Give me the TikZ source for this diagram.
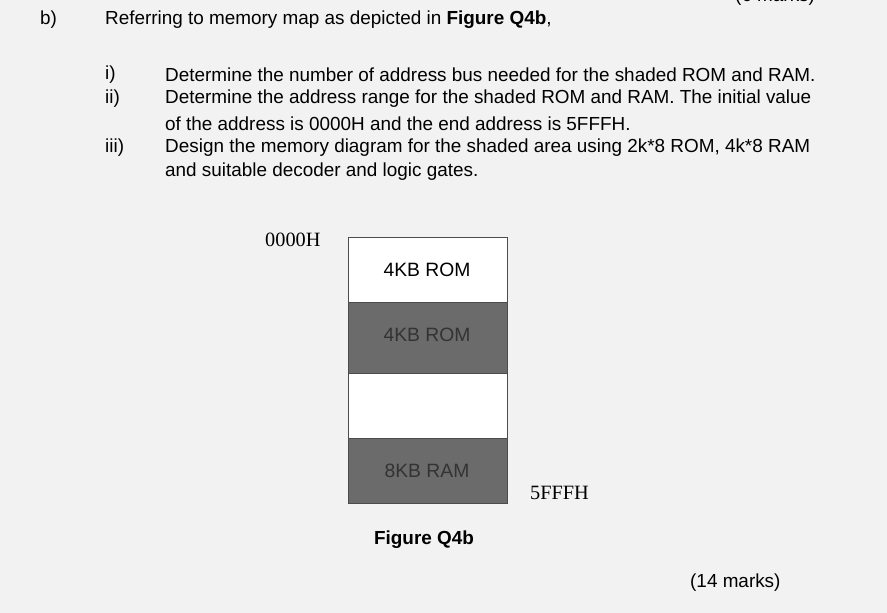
\documentclass[tikz,border=0pt]{standalone}
\usepackage{fontspec}
\setmainfont{Liberation Sans}
\newfontfamily\serifx{Liberation Serif}
\begin{document}
\begin{tikzpicture}[x=1pt,y=-1pt,
  txt/.style={anchor=west,inner sep=0pt,font=\fontsize{18.9}{21}\selectfont},
  ser/.style={anchor=west,inner sep=0pt,font=\serifx\fontsize{20.3}{22}\selectfont},
  blk/.style={draw=black!70,line width=0.8pt},
  lbl/.style={inner sep=0pt,font=\fontsize{19.3}{21}\selectfont}]
\fill[black!5] (0,0) rectangle (887,613);
\useasboundingbox (0,0) rectangle (887,613);
\node[txt] (m0) at (735,-3) {(6 marks)};
\node[txt] (b) at (40,20) {b)};
\node[txt] (t0) at (105,20) {Referring to memory map as depicted in \textbf{Figure Q4b},};
\node[txt] (r1) at (105,75) {i)};
\node[txt] (l1) at (165,75) {Determine the number of address bus needed for the shaded ROM and RAM.};
\node[txt] (r2) at (105,99) {ii)};
\node[txt] (l2) at (165,99) {Determine the address range for the shaded ROM and RAM. The initial value};
\node[txt] (l3) at (165,124) {of the address is 0000H and the end address is 5FFFH.};
\node[txt] (r3) at (105,148) {iii)};
\node[txt] (l4) at (165,148) {Design the memory diagram for the shaded area using 2k*8 ROM, 4k*8 RAM};
\node[txt] (l5) at (165,172) {and suitable decoder and logic gates.};
\fill[white] (348,237) rectangle (507,302);
\fill[white] (348,373) rectangle (507,438);
\fill[black!58] (348,302) rectangle (507,373);
\fill[black!58] (348,438) rectangle (507,503);
\draw[blk] (348,237) rectangle (507,503);
\draw[blk] (348,302) -- (507,302);
\draw[blk] (348,373) -- (507,373);
\draw[blk] (348,438) -- (507,438);
\node[lbl] (a) at (427,270) {4KB ROM};
\node[lbl,text=black!80] (bb) at (427,335) {4KB ROM};
\node[lbl,text=black!80] (c) at (427,471) {8KB RAM};
\node[ser] (s0) at (265,240) {0000H};
\node[ser] (s1) at (530,493) {5FFFH};
\node[txt,anchor=center] (f) at (424,540) {\textbf{Figure Q4b}};
\node[txt] (m) at (690,583) {(14 marks)};
\end{tikzpicture}
\end{document}
